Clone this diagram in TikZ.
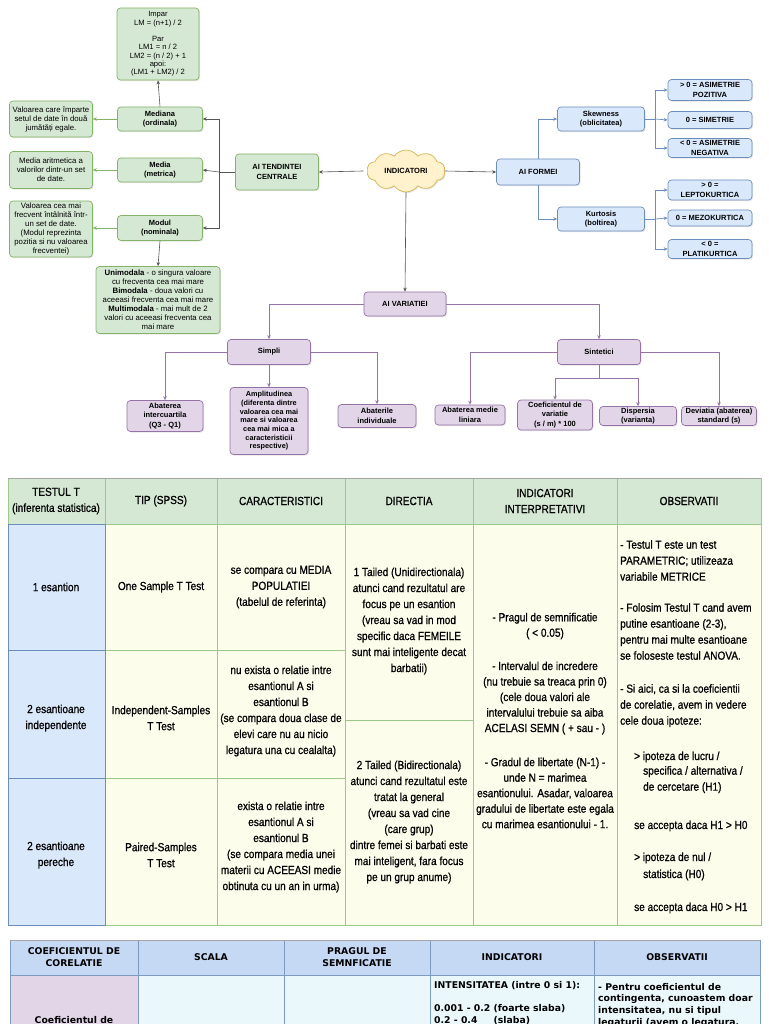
\documentclass[tikz,border=0pt]{standalone}
\usepackage{fontspec}
\setmainfont{Liberation Sans}
\setsansfont{Liberation Sans}
\newfontfamily\narrowf[FakeStretch=0.86,FakeBold=0.8]{Liberation Sans}
\newfontfamily\widef{DejaVu Sans}
\usetikzlibrary{arrows.meta,shapes.symbols,shadows}
\definecolor{gfill}{HTML}{D5E8D4}
\definecolor{gline}{HTML}{82B366}
\definecolor{bfill}{HTML}{DAE8FC}
\definecolor{bline}{HTML}{6C8EBF}
\definecolor{pfill}{HTML}{E1D5E7}
\definecolor{pline}{HTML}{9673A6}
\definecolor{yfill}{HTML}{FFF2CC}
\definecolor{yline}{HTML}{D6B656}
\definecolor{cream}{HTML}{FDFDEC}
\definecolor{t1line}{HTML}{9CC98A}
\definecolor{t2head}{HTML}{C6D9F4}
\definecolor{t2cell}{HTML}{EAF7FB}
\definecolor{t2line}{HTML}{7D9BBE}
\definecolor{darr}{HTML}{555555}
\tikzset{
  base/.style={rounded corners=3.5pt, align=center, inner sep=1pt, line width=0.7pt,
    drop shadow={shadow xshift=1pt,shadow yshift=-1.2pt,opacity=0.2}},
  bfont/.style={font=\bfseries\fontsize{7.5}{9.5}\selectfont},
  rfont/.style={font=\fontsize{7.8}{9}\selectfont},
  gbox/.style={base, draw=gline, fill=gfill},
  bbox/.style={base, draw=bline, fill=bfill},
  pbox/.style={base, draw=pline, fill=pfill},
  sz/.style 2 args={minimum width=#1pt, minimum height=#2pt},
  tip/.style={-{Stealth[length=4pt,width=3.5pt]}},
  garrow/.style={draw=darr, line width=0.6pt, tip},
  grarrow/.style={draw=gline, line width=0.7pt, tip},
  barrow/.style={draw=bline, line width=0.7pt, tip},
  parrow/.style={draw=pline, line width=0.7pt, tip},
  bline/.style={draw=bline, line width=0.7pt},
  pline/.style={draw=pline, line width=0.7pt},
  gline/.style={draw=darr, line width=0.6pt},
  tcell/.style={font=\narrowf\fontsize{11.7}{16}\selectfont, align=center, inner sep=0pt},
  icell/.style={font=\narrowf\fontsize{11.7}{15.5}\selectfont, align=center, inner sep=0pt},
  ocell/.style={font=\narrowf\fontsize{11.7}{16}\selectfont, align=left, inner sep=0pt, anchor=base west},
  omcell/.style={font=\narrowf\fontsize{11.7}{16}\selectfont, align=left, inner sep=0pt, anchor=north west},
  t2cellf/.style={font=\widef\bfseries\fontsize{9.3}{11.7}\selectfont, inner sep=0pt},
}
\begin{document}
\begin{tikzpicture}[x=1pt,y=-1pt]
\useasboundingbox (0,0) rectangle (768,1024);
\clip (0,0) rectangle (768,1024);
\fill[white] (0,0) rectangle (768,1024);

% ---------- central tendency ----------
\node[gbox,sz={82}{72},font=\fontsize{7.6}{8.3}\selectfont] (formula) at (158,44)
  {Impar\\LM = (n+1) / 2\\[8.3pt]Par\\LM1 = n / 2\\LM2 = (n / 2) + 1\\apoi:\\(LM1 + LM2) / 2};
\node[gbox,sz={85}{24},bfont] (mediana) at (160,119) {Mediana\\(ordinala)};
\node[gbox,sz={85}{24},bfont] (media) at (160,170) {Media\\(metrica)};
\node[gbox,sz={85}{25},bfont] (modul) at (160,228) {Modul\\(nominala)};
\node[gbox,sz={83}{36},rfont,inner sep=0pt] (d1) at (51,119) {Valoarea care împarte\\setul de date în două\\jumătăți egale.};
\node[gbox,sz={83}{37},rfont,inner sep=0pt] (d2) at (51,170) {Media aritmetica a\\valorilor dintr-un set\\de date.};
\node[gbox,sz={83}{56},rfont,inner sep=0pt] (d3) at (51,229) {Valoarea cea mai\\frecvent întâlnită într-\\un set de date.\\(Modul reprezinta\\pozitia si nu valoarea\\frecventei)};
\node[gbox,sz={124}{67},rfont,inner sep=0pt] (modes) at (158,300) {\textbf{Unimodala} - o singura valoare\\cu frecventa cea mai mare\\\textbf{Bimodala} - doua valori cu\\aceeasi frecventa cea mai mare\\\textbf{Multimodala} - mai mult de 2\\valori cu aceeasi frecventa cea\\mai mare};
\node[gbox,sz={83}{36},bfont] (tend) at (277,172) {AI TENDINTEI\\CENTRALE};
\node[cloud, cloud puffs=10, cloud puff arc=110, aspect=1.8, draw=yline, fill=yfill, line width=0.7pt,
  minimum width=78pt, minimum height=42pt, inner sep=0pt, bfont,
  drop shadow={shadow xshift=1pt,shadow yshift=-1.2pt,opacity=0.2}] (ind) at (406,171) {INDICATORI};

\coordinate (tj) at (219,172);
\draw[gline] (tend.west) -- (tj);
\draw[garrow] (tj) -- (media.east);
\draw[garrow] (tj) |- (mediana.east);
\draw[garrow] (tj) |- (modul.east);
\draw[garrow] (mediana.north) -- (formula.south);
\draw[garrow] (modul.south) -- (modes.north);
\draw[grarrow] (mediana.west) -- (d1.east);
\draw[grarrow] (media.west) -- (d2.east);
\draw[grarrow] (modul.west) -- (d3.east |- modul.west);
\draw[garrow] (ind.west) ++(-4,0) coordinate (indw) -- (tend.east);

% ---------- shape ----------
\node[bbox,sz={83}{26},bfont] (formei) at (538,172) {AI FORMEI};
\node[bbox,sz={87}{24},bfont] (skew) at (601,119) {Skewness\\(oblicitatea)};
\node[bbox,sz={87}{24},bfont] (kurt) at (601,219) {Kurtosis\\(boltirea)};
\node[bbox,sz={84}{21},bfont] (pos) at (710,90) {> 0 = ASIMETRIE\\POZITIVA};
\node[bbox,sz={84}{17},bfont] (sim) at (710,120) {0 = SIMETRIE};
\node[bbox,sz={84}{19},bfont] (neg) at (710,148) {< 0 = ASIMETRIE\\NEGATIVA};
\node[bbox,sz={84}{20},bfont] (lepto) at (710,190) {> 0 =\\LEPTOKURTICA};
\node[bbox,sz={84}{16},bfont] (mezo) at (710,218) {0 = MEZOKURTICA};
\node[bbox,sz={84}{19},bfont] (plati) at (710,249) {< 0 =\\PLATIKURTICA};
\draw[garrow] (ind.east) -- (formei.west);
\draw[barrow] (formei.north) |- (skew.west);
\draw[barrow] (formei.south) |- (kurt.west);
\coordinate (sj) at (655,119);
\coordinate (kj) at (655,219);
\draw[bline] (skew.east) -- (sj);
\draw[barrow] (sj) |- (pos.west);
\draw[barrow] (sj) -- (sim.west);
\draw[barrow] (sj) |- (neg.west);
\draw[bline] (kurt.east) -- (kj);
\draw[barrow] (kj) |- (lepto.west);
\draw[barrow] (kj) -- (mezo.west);
\draw[barrow] (kj) |- (plati.west);

% ---------- variation ----------
\node[pbox,sz={82}{24},bfont] (var) at (405,304) {AI VARIATIEI};
\node[pbox,sz={83}{25},bfont] (simpli) at (269,352) {Simpli};
\node[pbox,sz={83}{25},bfont] (sint) at (599,352) {Sintetici};
\node[pbox,sz={76}{31},bfont] (interq) at (165,416) {Abaterea\\intercuartila\\(Q3 - Q1)};
\node[pbox,sz={78}{67},inner sep=0pt,font=\bfseries\fontsize{7.3}{8.7}\selectfont] (ampl) at (269,421) {Amplitudinea\\(diferenta dintre\\valoarea cea mai\\mare si valoarea\\cea mai mica a\\caracteristicii\\respective)};
\node[pbox,sz={78}{23},bfont] (indiv) at (377,416) {Abaterile\\individuale};
\node[pbox,sz={70}{20},bfont,inner sep=0pt] (medlin) at (470,415) {Abaterea medie\\liniara};
\node[pbox,sz={75}{30},bfont] (coef) at (555,415) {Coeficientul de\\variatie\\(s / m) * 100};
\node[pbox,sz={77}{19},bfont] (disp) at (638,416) {Dispersia\\(varianta)};
\node[pbox,sz={75}{19},bfont,inner sep=0pt] (dev) at (719,416) {Deviatia (abaterea)\\standard (s)};
\draw[garrow] (ind.south) -- (var.north);
\draw[parrow] (var.west) -| (simpli.north);
\draw[parrow] (var.east) -| (sint.north);
\draw[parrow] (simpli.west) -| (interq.north);
\draw[parrow] (simpli.south) -- (ampl.north);
\draw[parrow] (simpli.east) -| (indiv.north);
\draw[parrow] (sint.west) -| (medlin.north);
\draw[parrow] (sint.east) -| (dev.north);
\coordinate (sc) at (599,378);
\draw[pline] (sint.south) -- (sc);
\draw[parrow] (sc) -| (coef.north);
\draw[parrow] (sc) -| (disp.north);

% ---------- table 1 ----------
\fill[gfill] (8,478) rectangle (761,524);
\fill[cream] (105,524) rectangle (761,925);
\fill[bfill] (8,524) rectangle (105,925);
\begin{scope}[draw=t1line, line width=0.9pt]
\draw (8,478) rectangle (761,925);
\draw (8,524) -- (761,524);
\foreach \x in {105,217,345,473,617} \draw (\x,478) -- (\x,925);
\draw (105,650) -- (345,650);
\draw (105,778) -- (345,778);
\draw (345,720) -- (473,720);
\end{scope}
\draw[draw=bline, line width=0.9pt] (8,524) rectangle (105,925) (8,650) -- (105,650) (8,778) -- (105,778);
\draw[draw=gray!70, line width=1pt] (8,478) -- (761,478);

\node[tcell] (h1) at (56,501) {TESTUL T\\(inferenta statistica)};
\node[tcell] (h2) at (161,501) {TIP (SPSS)};
\node[tcell] (h3) at (281,501) {CARACTERISTICI};
\node[tcell] (h4) at (409,501) {DIRECTIA};
\node[tcell] (h5) at (545,501) {INDICATORI\\INTERPRETATIVI};
\node[tcell] (h6) at (689,501) {OBSERVATII};

\node[tcell] (r1a) at (56,587) {1 esantion};
\node[tcell] (r1b) at (161,587) {One Sample T Test};
\node[tcell] (r1c) at (281,587) {se compara cu MEDIA\\POPULATIEI\\(tabelul de referinta)};
\node[tcell] (r2a) at (56,718) {2 esantioane\\independente};
\node[tcell] (r2b) at (161,718) {Independent-Samples\\T Test};
\node[tcell] (r2c) at (281,711) {nu exista o relatie intre\\esantionul A si\\esantionul B\\(se compara doua clase de\\elevi care nu au nicio\\legatura una cu cealalta)};
\node[tcell] (r3a) at (56,855) {2 esantioane\\pereche};
\node[tcell] (r3b) at (161,855) {Paired-Samples\\T Test};
\node[tcell] (r3c) at (281,847) {exista o relatie intre\\esantionul A si\\esantionul B\\(se compara media unei\\materii cu ACEEASI medie\\obtinuta cu un an in urma)};
\node[tcell] (dir1) at (409,621) {1 Tailed (Unidirectionala)\\atunci cand rezultatul are\\focus pe un esantion\\(vreau sa vad in mod\\specific daca FEMEILE\\sunt mai inteligente decat\\barbatii)};
\node[tcell] (dir2) at (409,822) {2 Tailed (Bidirectionala)\\atunci cand rezultatul este\\tratat la general\\(vreau sa vad cine\\(care grup)\\dintre femei si barbati este\\mai inteligent, fara focus\\pe un grup anume)};
\node[icell] (ind1) at (545,626) {- Pragul de semnificatie\\( < 0.05)};
\node[icell] (ind2) at (545,698) {- Intervalul de incredere\\(nu trebuie sa treaca prin 0)\\(cele doua valori ale\\intervalului trebuie sa aiba\\ACELASI SEMN ( + sau - )};
\node[icell] (ind3) at (545,793) {- Gradul de libertate (N-1) -\\unde N = marimea\\esantionului. Asadar, valoarea\\gradului de libertate este egala\\cu marimea esantionului - 1.};
\node[omcell] (o1) at (620,540) {- Testul T este un test\\PARAMETRIC; utilizeaza\\variabile METRICE};
\node[omcell] (o2) at (620,603) {- Folosim Testul T cand avem\\putine esantioane (2-3),\\pentru mai multe esantioane\\se foloseste testul ANOVA.};
\node[omcell] (o3) at (620,684) {- Si aici, ca si la coeficientii\\de corelatie, avem in vedere\\cele doua ipoteze:};
\node[ocell] (o4) at (634,760) {> ipoteza de lucru /};
\node[omcell] (o5) at (643,766) {specifica / alternativa /\\de cercetare (H1)};
\node[ocell] (o6) at (634,829) {se accepta daca H1 > H0};
\node[ocell] (o7) at (634,861) {> ipoteza de nul /};
\node[ocell] (o8) at (643,878) {statistica (H0)};
\node[ocell] (o9) at (634,911) {se accepta daca H0 > H1};

% ---------- table 2 ----------
\fill[t2head] (10,940) rectangle (760,975);
\fill[pfill] (10,975) rectangle (138,1030);
\fill[t2cell] (138,975) rectangle (760,1030);
\begin{scope}[draw=t2line, line width=0.9pt]
\draw (10,1030) -- (10,940) -- (760,940) -- (760,1030);
\draw (10,975) -- (760,975);
\foreach \x in {138,284,430,594} \draw (\x,940) -- (\x,1030);
\end{scope}
\draw[draw=gray!70, line width=1pt] (10,940) -- (760,940);
\node[t2cellf,align=center] (k1) at (74,957) {COEFICIENTUL DE\\CORELATIE};
\node[t2cellf,align=center] (k2) at (211,957) {SCALA};
\node[t2cellf,align=center] (k3) at (357,957) {PRAGUL DE\\SEMNFICATIE};
\node[t2cellf,align=center] (k4) at (512,957) {INDICATORI};
\node[t2cellf,align=center] (k5) at (677,957) {OBSERVATII};
\node[t2cellf,align=center] (c1) at (74,1020) {Coeficientul de};
\node[t2cellf,align=left,anchor=north west] (c4) at (434,981) {INTENSITATEA (intre 0 si 1):\\[11.5pt]0.001 - 0.2 (foarte slaba)\\0.2 - 0.4 \ \ \ \ (slaba)};
\node[t2cellf,align=left,anchor=north west] (c5) at (598,983) {- Pentru coeficientul de\\contingenta, cunoastem doar\\intensitatea, nu si tipul\\legaturii (avem o legatura,};
\end{tikzpicture}
\end{document}
